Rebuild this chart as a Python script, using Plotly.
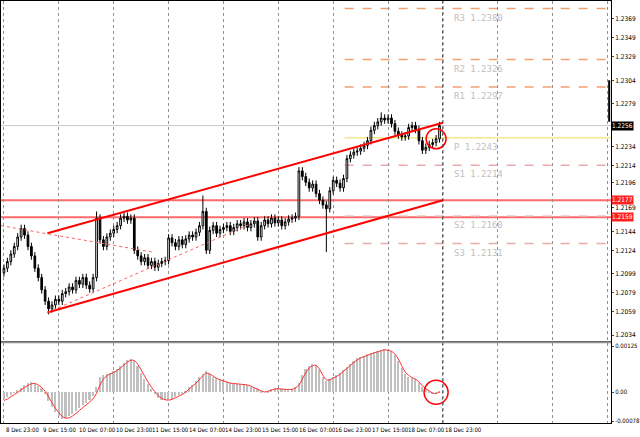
import plotly.graph_objects as go

# hourly sample spacing (trading hours since 8 Dec 23:00)
STEP = 1.5

closes = [
    1.2105, 1.2112, 1.2120, 1.2128, 1.2138, 1.2147,
    1.2140, 1.2128, 1.2118, 1.2105, 1.2095, 1.2082, 1.2070, 1.2062,
    1.2066, 1.2072, 1.2070, 1.2078, 1.2080, 1.2085, 1.2082,
    1.2092, 1.2088, 1.2095, 1.2087, 1.2083, 1.2095,
    1.2158,
    1.2135, 1.2128, 1.2138, 1.2142, 1.2146, 1.2150,
    1.2158, 1.2160, 1.2156, 1.2158,
    1.2124, 1.2118, 1.2112, 1.2116, 1.2108, 1.2112, 1.2106, 1.2110, 1.2112,
    1.2113, 1.2137, 1.2132, 1.2128, 1.2135, 1.2130, 1.2136, 1.2140, 1.2138, 1.2143, 1.2150,
    1.2165, 1.2124,
    1.2145, 1.2150, 1.2142, 1.2146, 1.2148,
    1.2150, 1.2144, 1.2148, 1.2152, 1.2150, 1.2154, 1.2148, 1.2152, 1.2155,
    1.2138,
    1.2150, 1.2156, 1.2152, 1.2158, 1.2153, 1.2156,
    1.2150, 1.2154, 1.2157, 1.2158, 1.2160,
    1.2208,
    1.2202, 1.2196, 1.2190, 1.2194, 1.2184,
    1.2177, 1.2172, 1.2168, 1.2187,
    1.2198, 1.2195, 1.2190, 1.2200,
    1.2221, 1.2225, 1.2228,
    1.2229, 1.2232, 1.2235, 1.2240,
    1.2251, 1.2256, 1.2260, 1.2264, 1.2262,
    1.2264, 1.2258, 1.2250, 1.2246, 1.2244,
    1.2245, 1.2254, 1.2256, 1.2252,
    1.2240, 1.2230, 1.2233, 1.2236, 1.2238, 1.2242, 1.2256,
]
first_open = 1.2100
wick = 0.0004
# long shadows: bar index -> (high, low)
spikes = {13: (None, 1.2056), 27: (1.2165, None), 58: (1.2182, None),
          94: (None, 1.2122), 110: (1.2270, None)}

macd_hist = [
    -19, -14, -8, -2, 5, 12, 18, 24, 27, 22,
    16, 10, -5, -24, -40, -53, -64, -72, -70, -66,
    -60, -52, -43, -36, -29, -20, -11, 15, 42, 47,
    50, 53, 56, 63, 72, 80, 87, 89, 84, 70,
    53, 36, 21, 8, -5, -16, -20, -22, -21, -18,
    -13, -8, -5, 4, 13, 20, 29, 40, 50, 56,
    50, 42, 37, 33, 30, 27, 24, 23, 22, 21,
    21, 20, 15, 10, 8, 2, 0, 4, 8, 10,
    11, 9, 8, 9, 8, 14, 24, 45, 62, 72,
    75, 74, 60, 40, 30, 35, 42, 45, 52, 60,
    69, 76, 85, 92, 96, 99, 102, 106, 108, 112,
    115, 117, 114, 110, 101, 85, 65, 48, 42, 38,
    35, 25, 15, 8, 3, -3, -2, 3,
]
macd_signal = [
    -22, -18, -12, -6, 0, 7, 13, 19, 23, 24,
    20, 13, 3, -12, -28, -43, -55, -65, -70, -69,
    -64, -57, -49, -41, -34, -26, -17, -2, 20, 36,
    45, 50, 54, 59, 66, 74, 82, 87, 86, 76,
    61, 44, 28, 14, 2, -9, -16, -20, -21, -19,
    -15, -10, -6, 1, 9, 17, 25, 35, 45, 52,
    50, 44, 38, 34, 31, 28, 25, 24, 23, 22,
    21, 20, 17, 12, 9, 4, 1, 3, 6, 9,
    10, 9, 8, 8, 8, 12, 20, 36, 53, 66,
    72, 73, 63, 46, 34, 34, 39, 43, 49, 57,
    65, 73, 81, 88, 93, 97, 100, 104, 107, 110,
    113, 115, 114, 111, 104, 90, 72, 55, 46, 40,
    36, 28, 18, 10, 4, -2, -3, 1,
]
MACD_UNIT = 1e-5

pivot_names = ["R3", "R2", "R1", "P", "S1", "S2", "S3"]
pivot_levels = [1.2380, 1.2326, 1.2297, 1.2243, 1.2214, 1.2160, 1.2131]
support_levels = [1.2177, 1.2159]
last_price = 1.2256

time_labels = ["8 Dec 23:00", "9 Dec 15:00", "10 Dec 07:00", "10 Dec 23:00", "11 Dec 15:00",
               "14 Dec 07:00", "14 Dec 23:00", "15 Dec 15:00", "16 Dec 07:00", "16 Dec 23:00",
               "17 Dec 15:00", "18 Dec 07:00", "18 Dec 23:00"]
price_ticks = [1.2369, 1.2349, 1.2329, 1.2304, 1.2279, 1.2234, 1.2214, 1.2196, 1.2169,
               1.2144, 1.2124, 1.2099, 1.2079, 1.2059, 1.2034]

# channel and trend lines (hour, price)
upper_channel = ([19, 192], [1.2142, 1.2259])
lower_channel = ([19, 192], [1.2058, 1.2177])
dotted_down = ([-1.3, 65], [1.2150, 1.2122])
dotted_up = ([19, 108], [1.2058, 1.2152])

FONT = "DejaVu Sans Condensed, DejaVu Sans, sans-serif"

t = [i * STEP for i in range(len(closes))]
opens = [first_open] + closes[:-1]
highs, lows = [], []
for i, (o, c) in enumerate(zip(opens, closes)):
    h, l = max(o, c) + wick, min(o, c) - wick
    if i in spikes:
        sh, sl = spikes[i]
        h = sh if sh else h
        l = sl if sl else l
    highs.append(h)
    lows.append(l)

fig = go.Figure()
fig.add_trace(go.Candlestick(
    x=t, open=opens, high=highs, low=lows, close=closes,
    increasing=dict(line=dict(color="black", width=1), fillcolor="white"),
    decreasing=dict(line=dict(color="black", width=1), fillcolor="black"),
    whiskerwidth=0, showlegend=False, xaxis="x", yaxis="y"))

for xs, ys in (upper_channel, lower_channel):
    fig.add_trace(go.Scatter(x=xs, y=ys, mode="lines", line=dict(color="red", width=2),
                             showlegend=False))
for xs, ys in (dotted_down, dotted_up):
    fig.add_trace(go.Scatter(x=xs, y=ys, mode="lines", line=dict(color="#ff6060", width=1, dash="dot"),
                             showlegend=False))

fig.add_trace(go.Bar(x=t, y=[v * MACD_UNIT for v in macd_hist], marker_color="#c0c0c0",
                     marker_line_width=0, width=0.7, xaxis="x2", yaxis="y2", showlegend=False))
fig.add_trace(go.Scatter(x=t, y=[v * MACD_UNIT for v in macd_signal], mode="lines",
                         line=dict(color="#ff3030", width=1, shape="spline"),
                         xaxis="x2", yaxis="y2", showlegend=False))

X0, X1 = -1.3, 265.5
PIV_START = 149
shapes = []
annotations = []
# current price grey line
shapes.append(dict(type="line", xref="x", yref="y", x0=X0, x1=X1, y0=last_price, y1=last_price,
                   line=dict(color="#c8c8c8", width=1), layer="below"))
for lv in support_levels:
    shapes.append(dict(type="line", xref="x", yref="y", x0=X0, x1=X1, y0=lv, y1=lv,
                       line=dict(color="#ff6a6a", width=2), layer="below"))
for name, lv in zip(pivot_names, pivot_levels):
    if name == "P":
        line = dict(color="#f0dc50", width=1)
    elif name.startswith("R"):
        line = dict(color="#f4a070", width=1.5, dash="dash")
    else:
        line = dict(color="#e8aaaa", width=1.5, dash="dash")
    shapes.append(dict(type="line", xref="x", yref="y", x0=PIV_START, x1=X1, y0=lv, y1=lv,
                       line=line, layer="below"))
    annotations.append(dict(x=196, y=lv, xref="x", yref="y", xanchor="left", yanchor="top",
                            yshift=-2, showarrow=False, text=f"{name} {lv:.4f}",
                            font=dict(family="DejaVu Sans Mono", size=9, color="#c0c0c0")))

# red circles
shapes.append(dict(type="circle", xref="x", yref="y", xsizemode="pixel", ysizemode="pixel",
                   xanchor=189, yanchor=1.2242, x0=-10, x1=10, y0=-10, y1=10,
                   line=dict(color="red", width=1.5)))
shapes.append(dict(type="circle", xref="x2", yref="y2", xsizemode="pixel", ysizemode="pixel",
                   xanchor=189, yanchor=0.0000, x0=-12, x1=12, y0=-12, y1=12,
                   line=dict(color="red", width=1.5)))
# current bar marker
shapes.append(dict(type="line", xref="x", yref="paper", x0=192, x1=192, y0=0, y1=1,
                   line=dict(color="#404040", width=1, dash="dot")))
shapes.append(dict(type="line", xref="paper", yref="y", x0=0.997, x1=0.997, y0=1.2304, y1=1.2260,
                   line=dict(color="black", width=2)))
# panel separator
shapes.append(dict(type="rect", xref="paper", yref="paper", x0=0, x1=1, y0=0.189, y1=0.194,
                   fillcolor="#909090", line=dict(width=0)))

for lv, bg, fg in [(last_price, "black", "white"), (1.2177, "#ff2020", "white"), (1.2159, "#ff2020", "white")]:
    annotations.append(dict(x=1.0, y=lv, xref="paper", yref="y", xanchor="left", showarrow=False,
                            text=f"{lv:.4f}", bgcolor=bg, borderpad=0,
                            font=dict(family=FONT, size=6.5, color=fg)))

tick_vals = [i * 16 for i in range(len(time_labels))]
for tv, lab in zip(tick_vals, time_labels):
    annotations.append(dict(x=tv, y=0, xref="x2", yref="paper", xanchor="left", yanchor="top",
                            yshift=-1, showarrow=False, text=lab,
                            font=dict(family=FONT, size=6, color="black")))

fig.update_layout(
    width=640, height=437, margin=dict(l=0, r=23, t=0, b=14),
    paper_bgcolor="white", plot_bgcolor="white", bargap=0,
    shapes=shapes, annotations=annotations,
    xaxis=dict(domain=[0, 1], range=[X0, X1], anchor="y", showticklabels=False,
               rangeslider=dict(visible=False), dtick=24, tick0=0, showgrid=True,
               gridcolor="#909090", griddash="dot", gridwidth=1, zeroline=False,
               showline=True, linecolor="black", mirror=True),
    yaxis=dict(domain=[0.194, 1], range=[1.20277, 1.23880], side="right", tickvals=price_ticks,
               ticktext=[f"{v:.4f}" for v in price_ticks], ticks="outside", ticklen=2,
               tickfont=dict(family=FONT, size=6.5, color="black"), showgrid=False,
               zeroline=False, showline=True, linecolor="black", mirror=True),
    xaxis2=dict(domain=[0, 1], range=[X0, X1], anchor="y2", showticklabels=False,
                dtick=24, tick0=0, showgrid=True, gridcolor="#909090", griddash="dot",
                zeroline=False, showline=True, linecolor="black", mirror=True),
    yaxis2=dict(domain=[0, 0.189], range=[-0.00083, 0.00133], side="right",
                tickvals=[0.00125, 0.0, -0.00078], ticktext=["0.00125", "0.00", "-0.00078"],
                ticks="outside", ticklen=2, tickfont=dict(family=FONT, size=6, color="black"),
                showgrid=False, zeroline=False, showline=True, linecolor="black", mirror=True),
)

fig.write_html("out.html", config={"displayModeBar": False})

# drop the browser's default page margin so the figure sits at the window's corner
with open("out.html", encoding="utf-8") as f:
    page = f.read()
page = page.replace("<head>", "<head><style>html,body{margin:0;padding:0;overflow:hidden}</style>", 1)
with open("out.html", "w", encoding="utf-8") as f:
    f.write(page)
